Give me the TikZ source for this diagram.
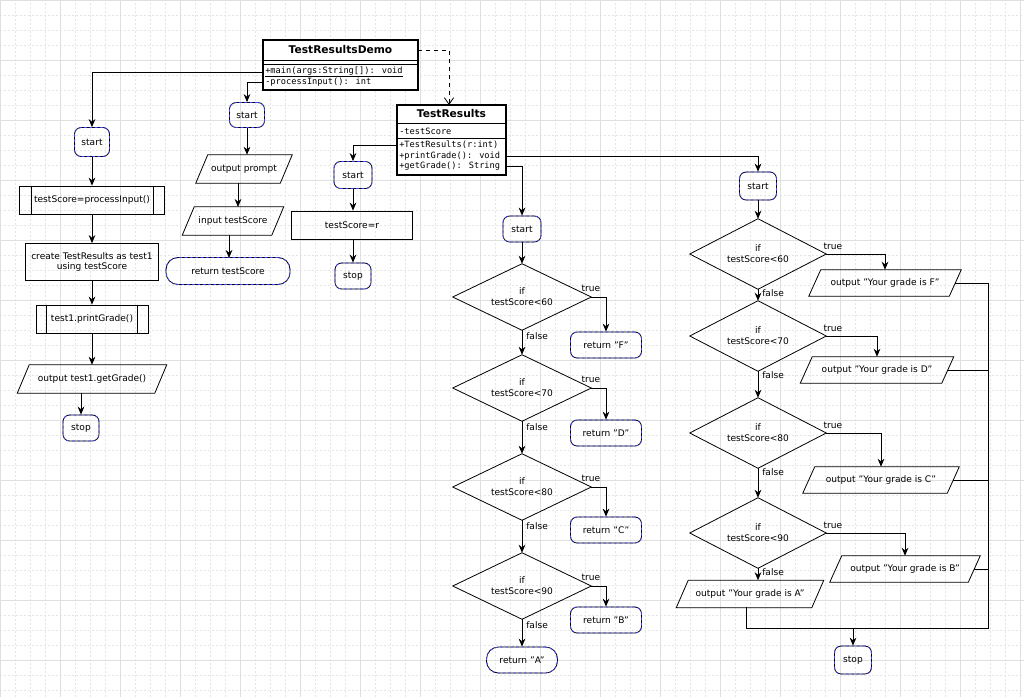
\documentclass[tikz,border=0pt]{standalone}
\usepackage{fontspec}
\setmainfont{DejaVu Sans}
\newfontfamily\umlmono{DejaVu Sans Mono}
\usetikzlibrary{arrows.meta}
\def\u{0.75pt}
\def\q{\symbol{34}}
\begin{document}
\begin{tikzpicture}[x=0.75pt,y=-0.75pt,
  every node/.style={font=\fontsize{6.8}{8.2}\selectfont, inner sep=0pt, align=center},
  ar/.style={-{Stealth[length=6pt,width=5pt]}, black, line width=0.6pt},
  ln/.style={black, line width=0.6pt},
  sel/.style={postaction={draw=blue!75, dash pattern=on 2pt off 2pt}},
  term/.style={draw, rounded corners=5pt, line width=0.6pt, sel},
  stad/.style={draw, rounded corners=9pt, line width=0.6pt, sel},
  proc/.style={draw, line width=0.6pt},
  lbl/.style={font=\fontsize{6.8}{8.2}\selectfont},
  uml/.style={font=\umlmono\fontsize{6.5}{7.6}\selectfont, anchor=west}
]
\useasboundingbox (0,0) rectangle (1024,697);
\fill[white] (0,0) rectangle (1024,697);
\draw[gray!20, dash pattern=on 1.5pt off 1.5pt, line width=0.4pt, step=15*\u] (0,0) grid (1024,697);
\foreach \i in {0,60,...,1020} \draw[gray!25,line width=0.4pt] (\i,0) -- (\i,697);
\foreach \j in {0,60,...,690} \draw[gray!25,line width=0.4pt] (0,\j) -- (1024,\j);

% --- UML TestResultsDemo
\draw[line width=0.8pt,fill=white] (263,40) rectangle (418,90);
\draw[line width=0.6pt] (263,60) -- (418,60) (263,64) -- (418,64);
\node[font=\bfseries\fontsize{8}{9}\selectfont] (trd) at (340.5,50) {TestResultsDemo};
\node[uml] (mainop) at (265,72) {\underline{+main(args:String[]): void}};
\node[uml] (procop) at (265,82) {-processInput(): int};
\coordinate (mainL) at (263,72);
\coordinate (procL) at (263,82);
% --- UML TestResults
\draw[line width=0.8pt,fill=white] (397,105) rectangle (506,175);
\draw[line width=0.6pt] (397,123) -- (506,123) (397,138) -- (506,138);
\node[font=\bfseries\fontsize{8}{9}\selectfont] (tr) at (451.5,114) {TestResults};
\node[uml] at (399,131) {-testScore};
\node[uml] at (399,145) {+TestResults(r:int)};
\node[uml] at (399,156) {+printGrade(): void};
\node[uml] at (399,166) {+getGrade(): String};
\coordinate (ctorL) at (397,145);
\coordinate (printR) at (506,156);
\coordinate (getR) at (506,166);
\draw[ln,dashed,-{Straight Barb[length=5pt,width=7pt]}] (418,50) -- (449,50) -- (449,105);

% --- column 1
\node[term, minimum width=35*\u, minimum height=29*\u] (s1) at (92,142) {start};
\node[proc, minimum width=145*\u, minimum height=28*\u] (p1) at (92,200) {testScore=processInput()};
\draw[ln] ([xshift=12*\u]p1.north west) -- ([xshift=12*\u]p1.south west) ([xshift=-12*\u]p1.north east) -- ([xshift=-12*\u]p1.south east);
\node[proc, minimum width=133*\u, minimum height=37*\u] (p2) at (92,262) {create TestResults as test1\\using testScore};
\node[proc, minimum width=112*\u, minimum height=28*\u] (p3) at (92,319) {test1.printGrade()};
\draw[ln] ([xshift=11*\u]p3.north west) -- ([xshift=11*\u]p3.south west) ([xshift=-11*\u]p3.north east) -- ([xshift=-11*\u]p3.south east);
\node[minimum width=137*\u, minimum height=28*\u] (o1) at (92,379) {output test1.getGrade()};
\draw[ln] ([xshift=6*\u]o1.north west) -- ([xshift=6*\u]o1.north east) -- ([xshift=-6*\u]o1.south east) -- ([xshift=-6*\u]o1.south west) -- cycle;
\node[term, minimum width=36*\u, minimum height=26*\u] (e1) at (81,428) {stop};
\draw[ar] (mainL) -| (s1.north);
\draw[ar] (s1) -- (p1);
\draw[ar] (p1) -- (p2);
\draw[ar] (p2) -- (p3);
\draw[ar] (p3) -- (o1);
\draw[ar] (o1.south -| e1) -- (e1);

% --- column 2
\node[term, minimum width=35*\u, minimum height=25*\u] (s2) at (247,115) {start};
\node[minimum width=84*\u, minimum height=28*\u] (o2) at (244,169) {output prompt};
\draw[ln] ([xshift=6*\u]o2.north west) -- ([xshift=6*\u]o2.north east) -- ([xshift=-6*\u]o2.south east) -- ([xshift=-6*\u]o2.south west) -- cycle;
\node[minimum width=89*\u, minimum height=28*\u] (i2) at (233,221) {input testScore};
\draw[ln] ([xshift=6*\u]i2.north west) -- ([xshift=6*\u]i2.north east) -- ([xshift=-6*\u]i2.south east) -- ([xshift=-6*\u]i2.south west) -- cycle;
\node[stad, minimum width=124*\u, minimum height=27*\u] (r2) at (228,271) {return testScore};
\draw[ar] (procL) -| (s2.north);
\draw[ar] (s2.south) -- (s2.south |- o2.north);
\draw[ar] (o2.south -| 238,0) -- (238,207);
\draw[ar] (i2.south -| 229,0) -- (229,258);

% --- column 3
\node[term, minimum width=38*\u, minimum height=27*\u] (s3) at (353,175) {start};
\node[proc, minimum width=121*\u, minimum height=28*\u] (p4) at (352,225) {testScore=r};
\node[term, minimum width=36*\u, minimum height=26*\u] (e3) at (353,276) {stop};
\draw[ar] (ctorL) -| (s3.north);
\draw[ar] (s3) -- (s3 |- p4.north);
\draw[ar] (p4.south -| e3) -- (e3);

% --- column 4 (getGrade)
\node[term, minimum width=38*\u, minimum height=26*\u] (s4) at (522,229) {start};
\draw[ar] (getR) -| (s4.north);
\foreach \n/\y/\v/\ry/\rt in {a/297/60/345/F, b/388/70/433/D, c/487/80/530/C, d/586/90/620/B}{
  \node[minimum width=138*\u, minimum height=66*\u] (g\n) at (522,\y) {if\\testScore<\v};
  \draw[ln] (g\n.north) -- (g\n.east) -- (g\n.south) -- (g\n.west) -- cycle;
  \node[term, minimum width=71*\u, minimum height=26*\u] (gr\n) at (606,\ry) {return \q\rt\q};
  \draw[ar] (g\n.east) -| (gr\n.north);
  \node[lbl, anchor=south west] at ([xshift=-10*\u,yshift=4pt]g\n.east) {true};
  \node[lbl, anchor=west] at ([xshift=4*\u,yshift=-6*\u]g\n.south) {false};
}
\node[stad, minimum width=71*\u, minimum height=26*\u] (gra) at (522,660) {return \q A\q};
\draw[ar] (s4) -- (ga.north);
\draw[ar] (ga.south) -- (gb.north);
\draw[ar] (gb.south) -- (gc.north);
\draw[ar] (gc.south) -- (gd.north);
\draw[ar] (gd.south) -- (gra.north);

% --- column 5 (printGrade)
\node[term, minimum width=37*\u, minimum height=28*\u] (s5) at (758,186) {start};
\draw[ar] (printR) -| (s5.north);
\foreach \n/\y/\v/\ox/\oy/\ow/\rt in {a/254/60/885/283/140/F, b/336/70/877/370/141/D, c/433/80/881/480/144/C, d/533/90/905/569/138/B}{
  \node[minimum width=136*\u, minimum height=70*\u] (h\n) at (758,\y) {if\\testScore<\v};
  \draw[ln] (h\n.north) -- (h\n.east) -- (h\n.south) -- (h\n.west) -- cycle;
  \node[minimum width=\ow*\u, minimum height=26*\u] (ho\n) at (\ox,\oy) {output \q Your grade is \rt\q};
  \draw[ln] ([xshift=6*\u]ho\n.north west) -- ([xshift=6*\u]ho\n.north east) -- ([xshift=-6*\u]ho\n.south east) -- ([xshift=-6*\u]ho\n.south west) -- cycle;
  \draw[ar] (h\n.east) -| (ho\n.north);
  \draw[ln] (ho\n.east) -- (988,\oy);
  \node[lbl, anchor=south west] at ([xshift=-3*\u,yshift=3pt]h\n.east) {true};
  \node[lbl, anchor=west] at ([xshift=4*\u,yshift=-4*\u]h\n.south) {false};
}
\node[minimum width=135*\u, minimum height=27*\u] (hoe) at (750,594) {output \q Your grade is A\q};
\draw[ln] ([xshift=6*\u]hoe.north west) -- ([xshift=6*\u]hoe.north east) -- ([xshift=-6*\u]hoe.south east) -- ([xshift=-6*\u]hoe.south west) -- cycle;
\node[term, minimum width=37*\u, minimum height=28*\u] (e5) at (853,660) {stop};
\coordinate (busT) at (988,283);
\coordinate (busB) at (988,628);
\coordinate (join) at (853,628);
\draw[ar] (s5) -- (ha.north);
\draw[ar] (ha.south) -- (hb.north);
\draw[ar] (hb.south) -- (hc.north);
\draw[ar] (hc.south) -- (hd.north);
\draw[ar] (hd.south) -- (hd.south |- hoe.north);
\draw[ln] (busT) -- (busB) -- (746,628) -- (746,607);
\draw[ar] (join) -- (e5);
\end{tikzpicture}
\end{document}
